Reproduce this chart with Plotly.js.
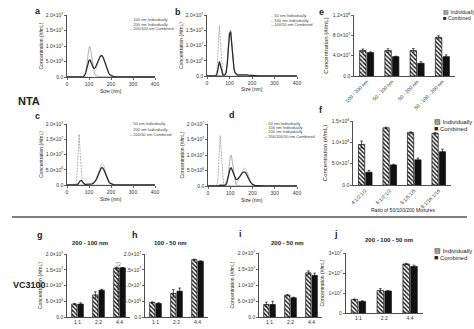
<!DOCTYPE html>
<html><head><meta charset="utf-8">
<script src="https://cdn.plot.ly/plotly-3.0.1.min.js"></script>
<style>html,body{margin:0;padding:0;background:#fff}</style>
</head><body><div id="chart" style="width:474px;height:329px"></div>
<script>
// ---------- DATA ----------
// NTA size grid (nm); concentrations in units of 1e6 particles/mL
const sizeNm = [0,30,35,40,45,50,55,60,65,70,75,80,85,90,95,100,105,110,115,120,125,130,135,140,145,150,155,160,165,170,175,180,185,190,195,200,210,220,230,250,300,400];

const a100Ind = [0,0,0,0,0,0,0,0,0,0,0.1,0.5,1.5,3.8,7.0,9.6,9.8,7.8,5.0,2.6,1.2,0.5,0.3,0.2,0.15,0.1,0.1,0.05,0,0,0,0,0,0,0,0,0,0,0,0,0,0];
const a200Ind = [0,0,0,0,0,0,0,0,0,0,0,0,0,0,0,0,0,0,0.2,0.5,1.0,1.8,2.9,4.2,5.5,6.4,6.9,6.8,6.2,5.2,4.0,2.8,1.8,1.1,0.6,0.35,0.15,0.1,0.05,0,0,0];
const aComb   = [0,0,0,0,0,0,0,0,0,0.05,0.15,0.5,1.3,2.7,4.4,5.4,5.5,4.7,3.6,2.9,2.8,3.2,4.0,4.9,5.8,6.5,6.9,6.8,6.2,5.2,4.0,2.9,1.9,1.2,0.7,0.45,0.2,0.1,0.05,0.02,0,0];

const b50Ind  = [0,0,0,0.3,2.5,10.0,16.5,10.5,3.5,0.8,0.2,0.1,0,0,0,0,0,0,0,0,0,0,0,0,0,0,0,0,0,0,0,0,0,0,0,0,0,0,0,0,0,0];
const b100Ind = [0,0,0,0,0,0,0,0,0,0,0,0.2,1.0,4.0,9.5,14.3,15.0,11.0,5.5,2.2,0.8,0.3,0.15,0.1,0.05,0,0,0,0,0,0,0,0,0,0,0,0,0,0,0,0,0];
const bComb   = [0,0,0,0.1,0.8,3.2,4.8,3.4,1.3,0.5,0.3,0.4,1.2,4.0,9.0,13.8,14.5,10.8,5.6,2.3,1.0,0.5,0.4,0.35,0.3,0.3,0.35,0.4,0.45,0.45,0.4,0.35,0.3,0.25,0.2,0.15,0.1,0.05,0,0,0,0];

const c50Ind  = [0,0,0,0.3,2.6,10.3,16.7,10.2,3.3,0.8,0.2,0.1,0,0,0,0,0,0,0,0,0,0,0,0,0,0,0,0,0,0,0,0,0,0,0,0,0,0,0,0,0,0];
const c200Ind = [0,0,0,0,0,0,0,0,0,0,0,0,0,0,0,0,0,0.1,0.25,0.5,0.9,1.5,2.4,3.4,4.6,5.8,6.7,7.1,6.8,5.9,4.7,3.4,2.3,1.4,0.8,0.45,0.2,0.1,0.05,0,0,0];
const cComb   = [0,0,0,0,0,0.3,0.9,1.4,1.5,1.0,0.5,0.3,0.2,0.2,0.2,0.2,0.2,0.3,0.4,0.6,0.9,1.4,2.1,3.0,4.0,4.9,5.5,5.7,5.4,4.6,3.6,2.6,1.7,1.0,0.6,0.35,0.15,0.05,0,0,0,0];

const d50Ind  = [0,0,0,0.3,2.5,10.0,16.3,10.3,3.4,0.8,0.2,0.1,0,0,0,0,0,0,0,0,0,0,0,0,0,0,0,0,0,0,0,0,0,0,0,0,0,0,0,0,0,0];
const d100Ind = [0,0,0,0,0,0,0,0,0,0,0,0.1,0.7,2.7,6.3,9.6,10.0,7.5,3.9,1.6,0.6,0.25,0.1,0.05,0,0,0,0,0,0,0,0,0,0,0,0,0,0,0,0,0,0];
const d200Ind = [0,0,0,0,0,0,0,0,0,0,0,0,0,0,0,0,0,0,0.1,0.3,0.6,1.0,1.6,2.4,3.3,4.3,5.2,5.7,5.8,5.4,4.6,3.6,2.6,1.7,1.0,0.6,0.25,0.1,0.05,0,0,0];
const dComb   = [0,0,0,0,0,0.1,0.3,0.3,0.2,0.15,0.2,0.5,1.3,2.8,4.6,5.7,5.8,4.9,3.7,2.7,2.2,2.1,2.3,2.8,3.4,3.9,4.3,4.5,4.5,4.2,3.6,2.8,2.0,1.3,0.8,0.5,0.2,0.1,0.05,0,0,0];

// Bar panels
const eCats = ["100 - 200 nm","50 - 100 nm","50 - 200 nm","50 - 100 - 200 nm"];
const eInd = [5.0e7,5.0e7,5.0e7,7.6e7], eIndErr = [0.3e7,0.35e7,0.4e7,0.3e7];
const eComb = [4.6e7,3.8e7,2.5e7,3.8e7], eCombErr = [0.15e7,0.1e7,0.3e7,0.35e7];

const fCats = ["4:1/2:1/2","8:1/2:1/2","8:1/5:1/5","8:1/16:1/16"];
const fInd = [9.5e7,1.34e8,1.23e8,1.21e8], fIndErr = [0.8e7,0.15e7,0.15e7,0.2e7];
const fComb = [3.0e7,4.7e7,5.9e7,7.8e7], fCombErr = [0.4e7,0.15e7,0.4e7,0.6e7];

const vcCats = ["1:1","2:2","4:4"];
const gInd = [4.1e6,7.0e6,1.55e7], gIndErr = [0.2e6,1.0e6,0.3e6];
const gComb = [4.1e6,8.5e6,1.56e7], gCombErr = [0.4e6,0.3e6,0.1e6];
const hInd = [4.6e6,7.5e6,1.82e7], hIndErr = [0.2e6,1.2e6,0.15e6];
const hComb = [4.3e6,8.2e6,1.77e7], hCombErr = [0.2e6,1.0e6,0.1e6];
const iInd = [3.9e6,6.8e6,1.38e7], iIndErr = [0.7e6,0.2e6,0.6e6];
const iComb = [3.9e6,6.0e6,1.30e7], iCombErr = [1.0e6,0.2e6,0.7e6];
const jInd = [6.7e6,1.12e7,2.45e7], jIndErr = [0.3e6,1.0e6,0.3e6];
const jComb = [5.8e6,1.10e7,2.33e7], jCombErr = [0.3e6,0.2e6,0.6e6];

// Tick labels
const ntaTickVals = [0,5,10,15,20];
const ntaTickText = ["0.0","5.0×10<sup>6</sup>","1.0×10<sup>7</sup>","1.5×10<sup>7</sup>","2.0×10<sup>7</sup>"];
const eTickVals = [0,4e7,8e7,1.2e8];
const eTickText = ["0.0","4.0×10<sup>7</sup>","8.0×10<sup>7</sup>","1.2×10<sup>8</sup>"];
const fTickVals = [0,5e7,1e8,1.5e8];
const fTickText = ["0.0","5.0×10<sup>7</sup>","1.0×10<sup>8</sup>","1.5×10<sup>8</sup>"];
const vcTickVals = [0,5e6,1e7,1.5e7,2e7];
const vcTickText = ["0.0","5.0×10<sup>6</sup>","1.0×10<sup>7</sup>","1.5×10<sup>7</sup>","2.0×10<sup>7</sup>"];
const jTickVals = [0,1e7,2e7,3e7];
const jTickText = ["0","1×10<sup>7</sup>","2×10<sup>7</sup>","3×10<sup>7</sup>"];

// ---------- LAYOUT HELPERS ----------
const W = 474, H = 329;
const X = p => p / W, Y = p => 1 - p / H;
const FONT = "Arial, 'Liberation Sans', sans-serif";

function baseAxis(extra) {
  return Object.assign({
    showline: true, linecolor: "#222", linewidth: 0.8,
    ticks: "outside", ticklen: 2, tickwidth: 0.7, tickcolor: "#222",
    showgrid: false, zeroline: false, fixedrange: true,
    tickfont: {family: FONT, size: 5, color: "#333"}
  }, extra);
}

const layout = {
  width: W, height: H, margin: {l: 0, r: 0, t: 0, b: 0},
  paper_bgcolor: "#fff", plot_bgcolor: "#fff",
  showlegend: false, barmode: "group", bargap: 0.4, bargroupgap: 0.15,
  font: {family: FONT, color: "#222"},
  annotations: [], shapes: []
};

// panel boxes: [x0,x1,y0(top),y1(bottom)]
const boxes = {
  1: [67,155,15,77], 2: [207,297,15,76], 3: [67,155,124,185], 4: [208,297,124,186],
  5: [354,455,15,76], 6: [353,451,121,185],
  7: [67,130,254,317], 8: [145,208,254,317], 9: [259,322,253,317], 10: [345.5,423,253,313]
};
const yTitle = (size, st) => ({text: "Concentration (#/mL)", font: {family: FONT, size: size, color: "#222"}, standoff: st});

for (let k = 1; k <= 10; k++) {
  const b = boxes[k];
  const xn = k === 1 ? "xaxis" : "xaxis" + k, yn = k === 1 ? "yaxis" : "yaxis" + k;
  const xa = k === 1 ? "x" : "x" + k, ya = k === 1 ? "y" : "y" + k;
  let xExtra = {domain: [X(b[0]), X(b[1])], anchor: ya};
  let yExtra = {domain: [Y(b[3]), Y(b[2])], anchor: xa};
  if (k <= 4) {
    Object.assign(xExtra, {range: [0, 400], tickvals: [0,100,200,300,400]});
    Object.assign(yExtra, {range: [0, 20], tickvals: ntaTickVals, ticktext: ntaTickText, title: yTitle(5, 1)});
  } else if (k === 5) {
    Object.assign(xExtra, {type: "category", range: [-0.5, 3.5], tickangle: -45, ticks: ""});
    Object.assign(yExtra, {range: [0, 1.2e8], tickvals: eTickVals, ticktext: eTickText, title: yTitle(6, 3)});
  } else if (k === 6) {
    Object.assign(xExtra, {type: "category", range: [-0.5, 3.5], tickangle: -45, ticks: ""});
    Object.assign(yExtra, {range: [0, 1.5e8], tickvals: fTickVals, ticktext: fTickText, title: yTitle(6, 3)});
  } else {
    Object.assign(xExtra, {type: "category", range: [-0.5, 2.5], ticks: "", tickfont: {family: FONT, size: 5, color: "#333"}});
    if (k === 10) Object.assign(yExtra, {range: [0, 3e7], tickvals: jTickVals, ticktext: jTickText, title: yTitle(5, 3)});
    else Object.assign(yExtra, {range: [0, 2e7], tickvals: vcTickVals, ticktext: vcTickText, title: yTitle(5, 2)});
  }
  layout[xn] = baseAxis(xExtra);
  layout[yn] = baseAxis(yExtra);
}

// ---------- TRACES ----------
const traces = [];
function line(y, ax, color, width, dash, name) {
  traces.push({type: "scatter", mode: "lines", x: sizeNm, y: y, xaxis: ax[0], yaxis: ax[1], name: name,
    line: {color: color, width: width, dash: dash || "solid"}, hoverinfo: "skip"});
}
const C_DARK = "#2a2a2a", C_50 = "#9a9a9a", C_100 = "#9c9c9c", C_200 = "#bdbdbd";
const FINEDASH = "2px,1px", FINEDOT = "1px,1px";
line(a200Ind, ["x","y"], C_200, 0.8, FINEDOT, "200 nm Individually");
line(a100Ind, ["x","y"], C_100, 0.8, "solid", "100 nm Individually");
line(aComb, ["x","y"], C_DARK, 1.3, "solid", "200/100 nm Combined");
line(b50Ind, ["x2","y2"], C_50, 0.8, FINEDASH, "50 nm Individually");
line(b100Ind, ["x2","y2"], "#8a8a8a", 0.8, "solid", "100 nm Individually");
line(bComb, ["x2","y2"], C_DARK, 1.3, "solid", "100/50 nm Combined");
line(c50Ind, ["x3","y3"], C_50, 0.8, FINEDASH, "50 nm Individually");
line(c200Ind, ["x3","y3"], C_200, 0.8, "solid", "200 nm Individually");
line(cComb, ["x3","y3"], C_DARK, 1.3, "solid", "200/50 nm Combined");
line(d50Ind, ["x4","y4"], C_50, 0.8, FINEDASH, "50 nm Individually");
line(d200Ind, ["x4","y4"], C_200, 0.8, "solid", "200 nm Individually");
line(d100Ind, ["x4","y4"], C_100, 0.8, "solid", "100 nm Individually");
line(dComb, ["x4","y4"], C_DARK, 1.3, "solid", "200/100/50 nm Combined");

function bars(cats, ind, indErr, comb, combErr, ax) {
  const eb = arr => ({type: "data", array: arr, visible: true, color: "#111", thickness: 0.7, width: 1.3});
  traces.push({type: "bar", x: cats, y: ind, xaxis: ax[0], yaxis: ax[1], name: "Individually",
    marker: {color: "#fff", line: {color: "#111", width: 0.7},
      pattern: {shape: "\\", fgcolor: "#111", bgcolor: "#fff", size: 3, solidity: 0.45}},
    error_y: eb(indErr), hoverinfo: "skip"});
  traces.push({type: "bar", x: cats, y: comb, xaxis: ax[0], yaxis: ax[1], name: "Combined",
    marker: {color: "#111", line: {color: "#111", width: 0.7}},
    error_y: eb(combErr), hoverinfo: "skip"});
}
bars(eCats, eInd, eIndErr, eComb, eCombErr, ["x5","y5"]);
bars(fCats, fInd, fIndErr, fComb, fCombErr, ["x6","y6"]);
bars(vcCats, gInd, gIndErr, gComb, gCombErr, ["x7","y7"]);
bars(vcCats, hInd, hIndErr, hComb, hCombErr, ["x8","y8"]);
bars(vcCats, iInd, iIndErr, iComb, iCombErr, ["x9","y9"]);
bars(vcCats, jInd, jIndErr, jComb, jCombErr, ["x10","y10"]);

// ---------- TEXT ----------
function ann(text, x, y, size, opts) {
  layout.annotations.push(Object.assign({text: text, x: X(x), y: Y(y), xref: "paper", yref: "paper",
    showarrow: false, font: {family: FONT, size: size, color: "#222"}, xanchor: "center", yanchor: "middle"}, opts || {}));
}
// panel letters
[["a",38,11],["b",178,12],["e",321,12],["c",37,116],["d",232,115],["f",321,110],
 ["g",40,235],["h",135,235],["i",240,234],["j",336,234]].forEach(p => ann("<b>" + p[0] + "</b>", p[1], p[2], 9));
ann("<b>NTA</b>", 29, 101, 11);
ann("<b>VC3100</b>", 29, 285, 9);

// x titles
ann("Size (nm)", 111, 90.5, 5); ann("Size (nm)", 252, 89.5, 5);
ann("Size (nm)", 111, 198.5, 5); ann("Size (nm)", 252, 199.5, 5);
ann("Ratio of 50/100/200 Mixtures", 403, 210, 5);

// bar panel titles
ann("<b>200 - 100 nm</b>", 90, 243, 6);
ann("<b>100 - 50 nm</b>", 170, 243, 6);
ann("<b>200 - 50 nm</b>", 287, 243, 6);
ann("<b>200 - 100 - 50 nm</b>", 389, 240, 6);

// legends for size distributions
function leg(items, x, y0, dy) {
  items.forEach((it, i) => ann('<span style="color:' + it[1] + '">–</span> ' + it[0], x, y0 + i * dy, 4,
    {xanchor: "left", font: {family: FONT, size: 4, color: "#444"}}));
}
leg([["100 nm Individually", C_100],["200 nm Individually", C_200],["200/100 nm Combined", C_DARK]], 128, 19, 5);
leg([["50 nm Individually", C_50],["100 nm Individually", "#8a8a8a"],["100/50 nm Combined", C_DARK]], 269, 15, 5);
leg([["50 nm Individually", C_50],["200 nm Individually", C_200],["200/50 nm Combined", C_DARK]], 128, 124, 5);
leg([["50 nm Individually", C_50],["100 nm Individually", C_100],["200 nm Individually", C_200],["200/100/50 nm Combined", C_DARK]], 263, 123, 4.5);

// legends for bars
function barLeg(x, y0, dy, size) {
  ann('<span style="font-size:' + (size + 1) + 'px">▧</span> Individually', x, y0, size, {xanchor: "left"});
  ann('<span style="font-size:' + (size + 1) + 'px">■</span> Combined', x, y0 + dy, size, {xanchor: "left"});
}
barLeg(441, 12, 6, 5);
barLeg(432, 121, 7, 6);
barLeg(432, 250, 7, 6);

// separator
layout.shapes.push({type: "line", xref: "paper", yref: "paper", x0: X(12), x1: X(467), y0: Y(217), y1: Y(217),
  line: {color: "#555", width: 1.5}});

Plotly.newPlot("chart", traces, layout, {staticPlot: true, displayModeBar: false});
</script>
</body></html>
